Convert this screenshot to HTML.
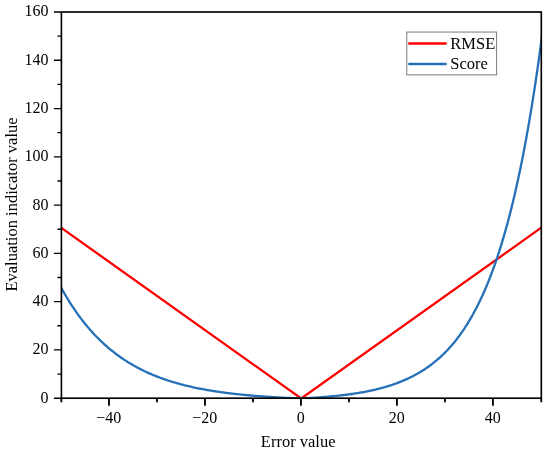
<!DOCTYPE html>
<html><head><meta charset="utf-8"><title>Evaluation indicator</title>
<style>
html,body{margin:0;padding:0;background:#fff;}
svg{display:block;}
text{font-family:"Liberation Serif","Times New Roman",serif;font-size:16px;fill:#000;}
</style></head><body>
<svg width="550" height="455" viewBox="0 0 550 455">
<rect width="550" height="455" fill="#fff"/>
<defs><clipPath id="c"><rect x="61.4" y="12.0" width="479.9" height="386.2"/></clipPath></defs>
<g clip-path="url(#c)" fill="none" stroke-linejoin="round">
<path d="M51.65,220.97 L301.20,398.48 L550.75,220.97" stroke="#ff0000" stroke-width="2.3" stroke-linejoin="miter"/>
<path d="M51.65,269.11 L52.85,271.62 L54.05,274.08 L55.25,276.50 L56.45,278.86 L57.65,281.19 L58.85,283.47 L60.05,285.71 L61.25,287.90 L62.45,290.05 L63.65,292.16 L64.85,294.23 L66.05,296.27 L67.25,298.26 L68.45,300.21 L69.65,302.13 L70.85,304.01 L72.05,305.86 L73.25,307.67 L74.45,309.44 L75.65,311.19 L76.85,312.89 L78.05,314.57 L79.25,316.21 L80.45,317.83 L81.65,319.41 L82.85,320.96 L84.05,322.48 L85.24,323.98 L86.44,325.44 L87.64,326.88 L88.84,328.29 L90.04,329.67 L91.24,331.03 L92.44,332.36 L93.64,333.66 L94.84,334.95 L96.04,336.20 L97.24,337.43 L98.44,338.64 L99.64,339.83 L100.84,340.99 L102.04,342.13 L103.24,343.25 L104.44,344.35 L105.64,345.43 L106.84,346.48 L108.04,347.52 L109.24,348.54 L110.44,349.53 L111.64,350.51 L112.84,351.47 L114.04,352.41 L115.24,353.34 L116.44,354.24 L117.64,355.13 L118.84,356.00 L120.04,356.86 L121.24,357.70 L122.44,358.52 L123.64,359.33 L124.84,360.12 L126.04,360.89 L127.24,361.66 L128.44,362.40 L129.64,363.14 L130.84,363.86 L132.04,364.56 L133.23,365.25 L134.43,365.93 L135.63,366.60 L136.83,367.25 L138.03,367.89 L139.23,368.52 L140.43,369.14 L141.63,369.74 L142.83,370.34 L144.03,370.92 L145.23,371.49 L146.43,372.05 L147.63,372.60 L148.83,373.14 L150.03,373.67 L151.23,374.18 L152.43,374.69 L153.63,375.19 L154.83,375.68 L156.03,376.16 L157.23,376.63 L158.43,377.09 L159.63,377.55 L160.83,377.99 L162.03,378.43 L163.23,378.86 L164.43,379.28 L165.63,379.69 L166.83,380.09 L168.03,380.49 L169.23,380.88 L170.43,381.26 L171.63,381.63 L172.83,382.00 L174.03,382.36 L175.23,382.71 L176.43,383.06 L177.63,383.40 L178.83,383.73 L180.03,384.06 L181.22,384.38 L182.42,384.69 L183.62,385.00 L184.82,385.30 L186.02,385.60 L187.22,385.89 L188.42,386.18 L189.62,386.46 L190.82,386.73 L192.02,387.00 L193.22,387.27 L194.42,387.53 L195.62,387.78 L196.82,388.03 L198.02,388.28 L199.22,388.52 L200.42,388.75 L201.62,388.98 L202.82,389.21 L204.02,389.43 L205.22,389.65 L206.42,389.87 L207.62,390.08 L208.82,390.28 L210.02,390.48 L211.22,390.68 L212.42,390.88 L213.62,391.07 L214.82,391.25 L216.02,391.44 L217.22,391.62 L218.42,391.80 L219.62,391.97 L220.82,392.14 L222.02,392.31 L223.22,392.47 L224.42,392.63 L225.62,392.79 L226.82,392.94 L228.02,393.09 L229.21,393.24 L230.41,393.39 L231.61,393.53 L232.81,393.67 L234.01,393.81 L235.21,393.94 L236.41,394.08 L237.61,394.21 L238.81,394.33 L240.01,394.46 L241.21,394.58 L242.41,394.70 L243.61,394.82 L244.81,394.93 L246.01,395.05 L247.21,395.16 L248.41,395.27 L249.61,395.38 L250.81,395.48 L252.01,395.58 L253.21,395.68 L254.41,395.78 L255.61,395.88 L256.81,395.98 L258.01,396.07 L259.21,396.16 L260.41,396.25 L261.61,396.34 L262.81,396.43 L264.01,396.51 L265.21,396.60 L266.41,396.68 L267.61,396.76 L268.81,396.84 L270.01,396.91 L271.21,396.99 L272.41,397.06 L273.61,397.14 L274.81,397.21 L276.01,397.28 L277.20,397.35 L278.40,397.42 L279.60,397.48 L280.80,397.55 L282.00,397.61 L283.20,397.67 L284.40,397.73 L285.60,397.79 L286.80,397.85 L288.00,397.91 L289.20,397.97 L290.40,398.02 L291.60,398.08 L292.80,398.13 L294.00,398.18 L295.20,398.24 L296.40,398.29 L297.60,398.34 L298.80,398.39 L300.00,398.43 L301.20,398.48 L302.40,398.42 L303.60,398.36 L304.80,398.29 L306.00,398.23 L307.20,398.16 L308.40,398.09 L309.60,398.02 L310.80,397.95 L312.00,397.87 L313.20,397.79 L314.40,397.72 L315.60,397.64 L316.80,397.55 L318.00,397.47 L319.20,397.38 L320.40,397.29 L321.60,397.20 L322.80,397.11 L324.00,397.01 L325.19,396.91 L326.39,396.81 L327.59,396.71 L328.79,396.60 L329.99,396.50 L331.19,396.38 L332.39,396.27 L333.59,396.15 L334.79,396.03 L335.99,395.91 L337.19,395.78 L338.39,395.65 L339.59,395.52 L340.79,395.39 L341.99,395.25 L343.19,395.10 L344.39,394.96 L345.59,394.81 L346.79,394.65 L347.99,394.49 L349.19,394.33 L350.39,394.17 L351.59,394.00 L352.79,393.82 L353.99,393.64 L355.19,393.46 L356.39,393.27 L357.59,393.08 L358.79,392.88 L359.99,392.68 L361.19,392.47 L362.39,392.26 L363.59,392.04 L364.79,391.81 L365.99,391.58 L367.19,391.35 L368.39,391.11 L369.59,390.86 L370.79,390.60 L371.99,390.34 L373.19,390.08 L374.38,389.80 L375.58,389.52 L376.78,389.23 L377.98,388.94 L379.18,388.64 L380.38,388.33 L381.58,388.01 L382.78,387.68 L383.98,387.35 L385.18,387.00 L386.38,386.65 L387.58,386.29 L388.78,385.92 L389.98,385.54 L391.18,385.15 L392.38,384.76 L393.58,384.35 L394.78,383.93 L395.98,383.50 L397.18,383.06 L398.38,382.61 L399.58,382.14 L400.78,381.67 L401.98,381.18 L403.18,380.68 L404.38,380.17 L405.58,379.65 L406.78,379.11 L407.98,378.56 L409.18,377.99 L410.38,377.41 L411.58,376.82 L412.78,376.21 L413.98,375.58 L415.18,374.94 L416.38,374.29 L417.58,373.61 L418.78,372.92 L419.98,372.21 L421.17,371.49 L422.37,370.74 L423.57,369.98 L424.77,369.20 L425.97,368.40 L427.17,367.57 L428.37,366.73 L429.57,365.86 L430.77,364.98 L431.97,364.07 L433.17,363.14 L434.37,362.18 L435.57,361.20 L436.77,360.20 L437.97,359.17 L439.17,358.11 L440.37,357.03 L441.57,355.92 L442.77,354.78 L443.97,353.61 L445.17,352.41 L446.37,351.18 L447.57,349.93 L448.77,348.64 L449.97,347.31 L451.17,345.96 L452.37,344.57 L453.57,343.14 L454.77,341.68 L455.97,340.18 L457.17,338.64 L458.37,337.07 L459.57,335.45 L460.77,333.79 L461.97,332.10 L463.17,330.35 L464.37,328.57 L465.57,326.74 L466.77,324.86 L467.97,322.93 L469.16,320.96 L470.36,318.94 L471.56,316.86 L472.76,314.74 L473.96,312.55 L475.16,310.32 L476.36,308.03 L477.56,305.67 L478.76,303.26 L479.96,300.79 L481.16,298.26 L482.36,295.66 L483.56,293.00 L484.76,290.26 L485.96,287.46 L487.16,284.59 L488.36,281.65 L489.56,278.63 L490.76,275.53 L491.96,272.36 L493.16,269.11 L494.36,265.77 L495.56,262.35 L496.76,258.84 L497.96,255.25 L499.16,251.56 L500.36,247.78 L501.56,243.90 L502.76,239.93 L503.96,235.85 L505.16,231.68 L506.36,227.39 L507.56,223.00 L508.76,218.50 L509.96,213.88 L511.16,209.15 L512.36,204.29 L513.56,199.31 L514.76,194.21 L515.96,188.98 L517.15,183.61 L518.35,178.11 L519.55,172.47 L520.75,166.69 L521.95,160.76 L523.15,154.68 L524.35,148.45 L525.55,142.06 L526.75,135.51 L527.95,128.79 L529.15,121.90 L530.35,114.84 L531.55,107.60 L532.75,100.17 L533.95,92.56 L535.15,84.75 L536.35,76.75 L537.55,68.55 L538.75,60.13 L539.95,51.51 L541.15,42.66 L542.35,33.59 L543.55,24.29 L544.75,14.76 L545.95,4.99 L547.15,-5.04 L548.35,-15.31 L549.55,-25.85 L550.75,-36.65" stroke="#2471b7" stroke-width="2.3"/>
</g>

<rect x="61.4" y="12.0" width="479.9" height="386.2" fill="none" stroke="#000" stroke-width="1.65"/>
<path d="M53.90,398.20H61.40M57.40,374.06H61.40M53.90,349.93H61.40M57.40,325.79H61.40M53.90,301.65H61.40M57.40,277.51H61.40M53.90,253.38H61.40M57.40,229.24H61.40M53.90,205.10H61.40M57.40,180.96H61.40M53.90,156.82H61.40M57.40,132.69H61.40M53.90,108.55H61.40M57.40,84.41H61.40M53.90,60.27H61.40M57.40,36.14H61.40M53.90,12.00H61.40" stroke="#000" stroke-width="1.35" fill="none"/>
<path d="M61.35,398.20V402.20M108.99,398.20V405.70M156.98,398.20V402.20M204.97,398.20V405.70M252.96,398.20V402.20M300.95,398.20V405.70M348.94,398.20V402.20M396.93,398.20V405.70M444.92,398.20V402.20M492.91,398.20V405.70M541.25,398.20V402.20" stroke="#000" stroke-width="1.85" fill="none"/>
<text x="48.6" y="402.6" text-anchor="end">0</text>
<text x="48.6" y="354.3" text-anchor="end">20</text>
<text x="48.6" y="306.0" text-anchor="end">40</text>
<text x="48.6" y="257.8" text-anchor="end">60</text>
<text x="48.6" y="209.5" text-anchor="end">80</text>
<text x="48.6" y="161.2" text-anchor="end">100</text>
<text x="48.6" y="113.0" text-anchor="end">120</text>
<text x="48.6" y="64.7" text-anchor="end">140</text>
<text x="48.6" y="16.4" text-anchor="end">160</text>
<text x="108.8" y="423.0" text-anchor="middle">−40</text>
<text x="204.8" y="423.0" text-anchor="middle">−20</text>
<text x="300.7" y="423.0" text-anchor="middle">0</text>
<text x="396.7" y="423.0" text-anchor="middle">20</text>
<text x="492.7" y="423.0" text-anchor="middle">40</text>
<text x="298.2" y="447" text-anchor="middle" style="font-size:16.5px">Error value</text>
<text transform="translate(16.6,204.5) rotate(-90)" text-anchor="middle" style="font-size:16.5px">Evaluation indicator value</text>
<rect x="406.75" y="32.05" width="89.85" height="42.8" fill="#fff" stroke="#858585" stroke-width="1.1"/>
<path d="M409.3,43.5H445.7" stroke="#ff0000" stroke-width="2.4" stroke-linecap="round"/>
<path d="M409.3,64H445.7" stroke="#2471b7" stroke-width="2.4" stroke-linecap="round"/>
<text x="450.3" y="48.8" style="font-size:16.5px">RMSE</text>
<text x="450.3" y="68.9" style="font-size:16.5px">Score</text>
</svg></body></html>
